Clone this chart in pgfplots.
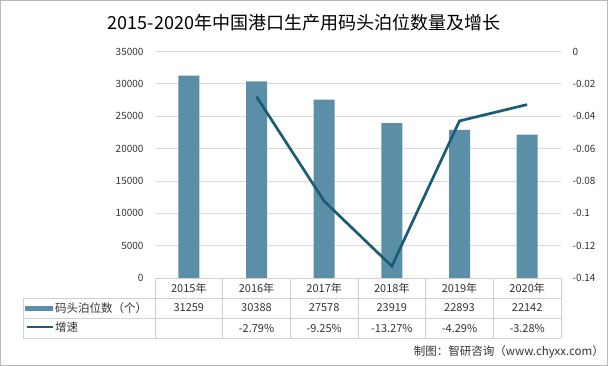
\documentclass[border=0pt]{standalone}
\usepackage{pgfplots}
\pgfplotsset{compat=1.18}
\usepackage{fontspec}
\setmainfont{Noto Sans CJK SC}
\definecolor{barc}{HTML}{5B8FA8}
\definecolor{linec}{HTML}{1B5C74}
\definecolor{gridc}{HTML}{D9D9D9}
\definecolor{tabc}{HTML}{D0D0D0}
\definecolor{txt}{HTML}{333333}
\begin{document}
\begin{tikzpicture}[x=1pt,y=1pt]
\useasboundingbox (0,0) rectangle (608,-366);
\draw[gray!55, line width=1pt] (0.5,-0.5) rectangle (607.5,-365.5);
\node[font=\fontsize{18}{20}\selectfont, text=black] at (304,-23) {2015-2020年中国港口生产用码头泊位数量及增长};

\begin{axis}[at={(155pt,-278pt)}, anchor=south west, scale only axis,
  width=406pt, height=226.5pt,
  xmin=-0.5, xmax=5.5, ymin=0, ymax=35000,
  scaled y ticks=false,
  ytick={0,5000,10000,15000,20000,25000,30000,35000},
  yticklabels={0,5000,10000,15000,20000,25000,30000,35000},
  xtick=\empty,
  axis line style={draw=none},
  ymajorgrids, grid style={gridc, line width=0.8pt},
  major tick length=0pt,
  yticklabel style={font=\fontsize{10}{12}\selectfont, text=txt, xshift=-8pt},
  clip=false]
\addplot[ybar, bar width=21pt, fill=barc, draw=none] coordinates {(0,31259) (1,30388) (2,27578) (3,23919) (4,22893) (5,22142)};
\end{axis}

\begin{axis}[at={(155pt,-278pt)}, anchor=south west, scale only axis,
  width=406pt, height=226.5pt,
  xmin=-0.5, xmax=5.5, ymin=-0.14, ymax=0,
  scaled y ticks=false,
  axis y line*=right, axis x line=none,
  ytick={-0.14,-0.12,-0.1,-0.08,-0.06,-0.04,-0.02,0},
  yticklabels={-0.14,-0.12,-0.1,-0.08,-0.06,-0.04,-0.02,0},
  xtick=\empty,
  axis line style={draw=none},
  major tick length=0pt,
  yticklabel style={font=\fontsize{10}{12}\selectfont, text=txt, xshift=8pt},
  clip=false]
\addplot[linec, line width=2.7pt, mark=none] coordinates {(1,-0.0279) (2,-0.0925) (3,-0.1327) (4,-0.0429) (5,-0.0328)};
\end{axis}

% data table
\draw[tabc, line width=0.8pt] (155,-278) -- (561,-278);
\foreach \yy in {-298,-318,-338} \draw[tabc, line width=0.8pt] (23,\yy) -- (561,\yy);
\draw[tabc, line width=0.8pt] (23,-298) -- (23,-338);
\foreach \k in {0,...,6} \draw[tabc, line width=0.8pt] ({155+67.667*\k},-278) -- ({155+67.667*\k},-338);

\foreach \lab [count=\i from 0] in {2015年,2016年,2017年,2018年,2019年,2020年}
  \node[font=\fontsize{11}{12}\selectfont, text=txt] at ({155+67.667*(\i+0.5)},-288) {\lab};
\foreach \lab [count=\i from 0] in {31259,30388,27578,23919,22893,22142}
  \node[font=\fontsize{11}{12}\selectfont, text=txt] at ({155+67.667*(\i+0.5)},-308) {\lab};
\foreach \lab [count=\i from 1] in {-2.79\%,-9.25\%,-13.27\%,-4.29\%,-3.28\%}
  \node[font=\fontsize{11}{12}\selectfont, text=txt] at ({155+67.667*(\i+0.5)},-328) {\lab};

\fill[barc] (25,-305.5) rectangle (53,-311);
\node[anchor=west, inner sep=0pt, font=\fontsize{11.5}{12}\selectfont, text=txt] at (55,-308.5) {码头泊位数（个）};
\draw[linec, line width=2.7pt] (27,-327) -- (53,-327);
\node[anchor=west, inner sep=0pt, font=\fontsize{11.5}{12}\selectfont, text=txt] at (55,-327.5) {增速};

\node[anchor=east, inner sep=0pt, font=\fontsize{11.5}{13}\selectfont, text=txt] at (604,-352) {制图：智研咨询（www.chyxx.com）};
\end{tikzpicture}
\end{document}
